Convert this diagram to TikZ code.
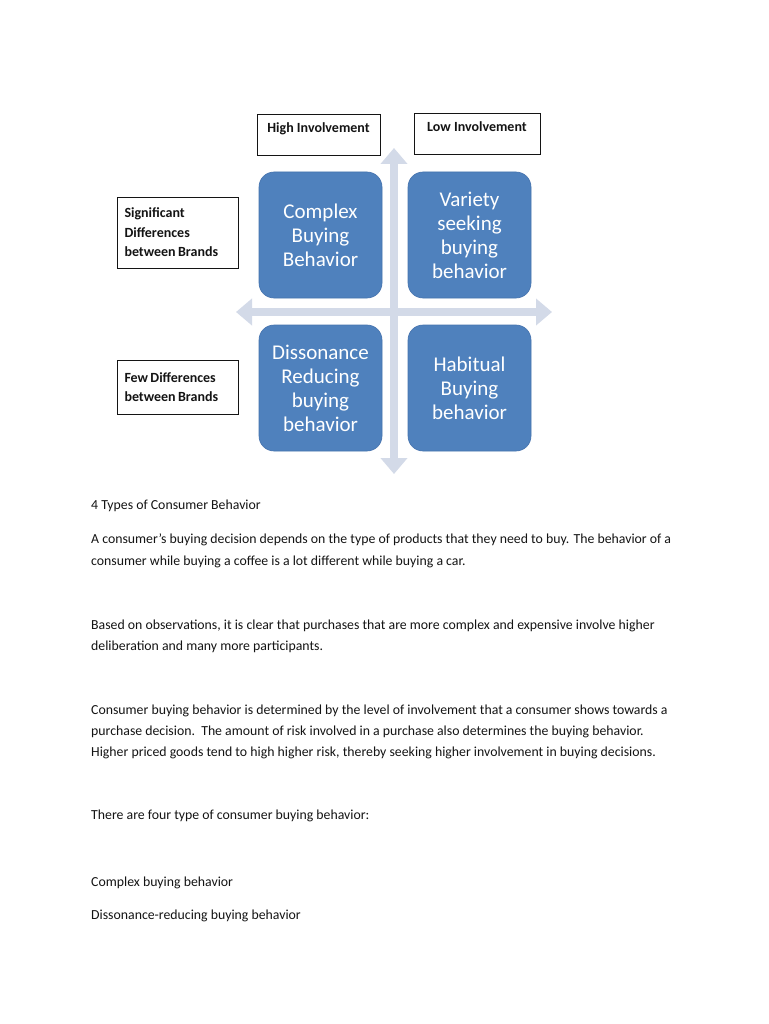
\documentclass[tikz,border=0pt]{standalone}
\usepackage{fontspec}
\setmainfont{Carlito}
\usetikzlibrary{arrows.meta}
\definecolor{boxblue}{HTML}{4F81BD}
\definecolor{boxedge}{HTML}{4673AE}
\definecolor{axiscol}{HTML}{D3DAE8}
\definecolor{ink}{HTML}{141414}
\begin{document}
\begin{tikzpicture}[x=1pt,y=-1pt,
  quad/.style={fill=boxblue, draw=boxedge, line width=0.6pt, rounded corners=15pt,
    minimum width=123pt, minimum height=126pt, text=white,
    font=\fontsize{21}{24}\selectfont, align=center, inner sep=0pt},
  headbox/.style={draw=ink, line width=0.8pt, minimum width=123pt, minimum height=41pt,
    font=\bfseries\fontsize{14}{14}\selectfont, text=ink, align=center, inner sep=0pt},
  sidebox/.style={draw=ink, line width=0.8pt, minimum width=121pt, text width=106pt,
    font=\bfseries\fontsize{14}{19.5}\selectfont, text=ink, align=left, inner xsep=7.5pt},
  body/.style={anchor=base west, font=\fontsize{13.8}{14}\selectfont, text=ink, inner sep=0pt},
  axis/.style={draw=axiscol, line width=8pt, {Triangle[width=26pt,length=16pt]}-{Triangle[width=26pt,length=16pt]}}
]
\useasboundingbox[fill=white] (0,0) rectangle (768,1024);

% axes
\coordinate (vtop) at (394,148);
\coordinate (vbot) at (394,474);
\coordinate (hleft) at (236,312);
\coordinate (hright) at (552,312);
\draw[axis] (vtop) -- (vbot);
\draw[axis] (hleft) -- (hright);

% quadrants
\node[quad] (complex) at (320.5,235) {Complex\\Buying\\Behavior};
\node[quad] (variety) at (469.5,235) {Variety\\seeking\\buying\\behavior};
\node[quad] (disson) at (320.5,388) {Dissonance\\Reducing\\buying\\behavior};
\node[quad] (habit) at (469.5,388) {Habitual\\Buying\\behavior};

% header boxes
\node[headbox] (high) at (318.5,134.5) {High Involvement\\\mbox{}};
\node[headbox, minimum width=126pt] (low) at (477,134) {Low Involvement\\\mbox{}};

% side boxes
\node[sidebox, minimum height=71pt] (sig) at (177.5,232.5) {Significant\\Differences\\between\,Brands};
\node[sidebox, minimum height=54pt] (few) at (177.5,387) {Few\,Differences\\between\,Brands};

% body text
\node[body] (t1) at (91,509) {4 Types of Consumer Behavior};
\node[body] (t2) at (91,543) {A consumer’s buying decision depends on the type of products that they need to buy. The behavior of a};
\node[body] (t3) at (91,565) {consumer while buying a coffee is a lot different while buying a car.};
\node[body] (t4) at (91,629) {Based on observations, it is clear that purchases that are more complex and expensive involve higher};
\node[body] (t5) at (91,650) {deliberation and many more participants.};
\node[body] (t6) at (91,714) {Consumer buying behavior is determined by the level of involvement that a consumer shows towards a};
\node[body] (t7) at (91,735) {purchase decision.\ \ The amount of risk involved in a purchase also determines the buying behavior.};
\node[body] (t8) at (91,756) {Higher priced goods tend to high higher risk, thereby seeking higher involvement in buying decisions.};
\node[body] (t9) at (91,819) {There are four type of consumer buying behavior:};
\node[body] (t10) at (91,886) {Complex buying behavior};
\node[body] (t11) at (91,919) {Dissonance-reducing buying behavior};
\end{tikzpicture}
\end{document}
